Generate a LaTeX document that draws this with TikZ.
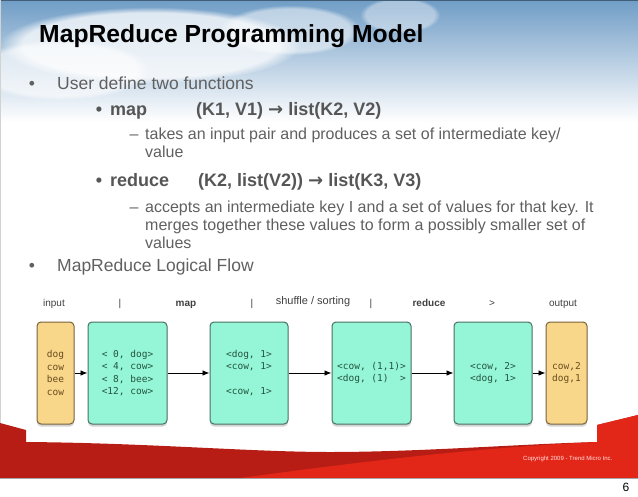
\documentclass[tikz,border=0pt]{standalone}
\usepackage{fontspec}
\setmainfont{Liberation Sans}
\setmonofont{DejaVu Sans Mono}
\newfontfamily\arrowfont{DejaVu Sans}
\usetikzlibrary{shadows,fadings,arrows.meta}

\definecolor{skyblue}{RGB}{112,157,198}
\definecolor{skymid}{RGB}{172,201,227}
\definecolor{bodygray}{RGB}{96,96,96}
\definecolor{mapgreen}{RGB}{148,246,214}
\definecolor{mapedge}{RGB}{74,112,98}
\definecolor{mapink}{RGB}{36,84,64}
\definecolor{ioorange}{RGB}{248,214,138}
\definecolor{ioedge}{RGB}{122,98,60}
\definecolor{ioink}{RGB}{104,76,30}
\definecolor{darkred}{RGB}{183,29,20}
\definecolor{brightred}{RGB}{226,39,24}

\newcommand{\sigarrow}{{\arrowfont\bfseries\char"2192}}

\begin{document}
\begin{tikzpicture}[x=1pt, y=-1pt,
    lvlone/.style={anchor=base west, inner sep=0pt, text=bodygray, font=\fontsize{17.5}{20}\selectfont},
    lvltwo/.style={anchor=base west, inner sep=0pt, text=bodygray!90!black, font=\bfseries\fontsize{18}{20}\selectfont},
    lvlthree/.style={anchor=base west, inner sep=0pt, text=bodygray, font=\fontsize{16}{18}\selectfont},
    head/.style={anchor=base, inner sep=0pt, text=black!75, font=\fontsize{10}{12}\selectfont},
    box/.style={draw=mapedge, fill=mapgreen, rounded corners=4pt, line width=1pt,
        minimum height=102pt, inner sep=0pt, align=center, text=mapink,
        font=\ttfamily\fontsize{9.5}{12.5}\selectfont,
        drop shadow={shadow xshift=0pt, shadow yshift=-2.5pt, opacity=0.35}},
    iobox/.style={box, draw=ioedge, fill=ioorange, text=ioink},
    flow/.style={-{Latex[length=7pt, width=5.5pt]}, line width=0.8pt}]

    \useasboundingbox (0,0) rectangle (638,496);

    % Sky behind the title, with a few soft clouds on the left
    \shade[top color=skyblue, middle color=skymid, bottom color=white] (0,0) rectangle (638,122);
    \fill[white, opacity=0.75, path fading=circle with fuzzy edge 15 percent] (150,45) ellipse (150 and 38);
    \fill[white, opacity=0.6, path fading=circle with fuzzy edge 15 percent] (60,70) ellipse (90 and 30);
    \fill[white, opacity=0.5, path fading=circle with fuzzy edge 15 percent] (290,30) ellipse (70 and 25);
    \fill[white, opacity=0.4, path fading=circle with fuzzy edge 15 percent] (400,15) ellipse (40 and 18);
    \draw[skyblue!60!black, line width=1pt] (0,0.5) -- (638,0.5);
    \draw[gray!35] (0.5,0) -- (0.5,478);

    % Red band at the foot of the slide
    \fill[darkred] (0,423) -- (26,430) -- (26,442)
        .. controls (150,443) and (250,452) .. (330,452)
        .. controls (420,452) and (520,444) .. (597,442)
        -- (597,425) -- (638,415) -- (638,478) -- (0,478) -- cycle;
    \fill[brightred] (240,478) .. controls (360,462) and (470,448) .. (597,442)
        -- (597,425) -- (638,415) -- (638,478) -- cycle;
    \draw[gray!70, line width=0.8pt] (0,478) -- (638,478);
    \node[anchor=west, inner sep=0pt, text=white!88!red, font=\fontsize{6}{7}\selectfont]
        (copy) at (523,459) {Copyright 2009 - Trend Micro Inc.};
    \node[anchor=base, inner sep=0pt, font=\fontsize{12}{14}\selectfont] (page) at (626,491) {6};

    % Title and bullets
    \node[anchor=base west, inner sep=0pt, font=\bfseries\fontsize{24.7}{28}\selectfont]
        (title) at (39,42.6) {MapReduce Programming Model};

    \node[lvlone, anchor=base] (dot1) at (32,89.3) {•};
    \node[lvlone] (users) at (57,89.3) {User define two functions};

    \node[lvltwo, anchor=base] (dot2) at (99,115.5) {•};
    \node[lvltwo] (mapkey) at (110,115.5) {map};
    \node[lvltwo] (mapsig) at (196,115.5) {(K1, V1) \sigarrow{} list(K2, V2)};
    \node[lvlthree, anchor=base] (dash1) at (134,139.8) {–};
    \node[lvlthree] (maptxt1) at (145,139.8)
        {takes an input pair and produces a set of intermediate key/};
    \node[lvlthree] (maptxt2) at (145,157.8) {value};

    \node[lvltwo, anchor=base] (dot3) at (99,186.5) {•};
    \node[lvltwo] (redkey) at (110,186.5) {reduce};
    \node[lvltwo] (redsig) at (198,186.5) {(K2, list(V2)) \sigarrow{} list(K3, V3)};
    \node[lvlthree, anchor=base] (dash2) at (134,212.8) {–};
    \node[lvlthree] (redtxt1) at (145,212.8)
        {accepts an intermediate key I and a set of values for that key. It};
    \node[lvlthree] (redtxt2) at (145,230.8)
        {merges together these values to form a possibly smaller set of};
    \node[lvlthree] (redtxt3) at (145,248.8) {values};

    \node[lvlone, anchor=base] (dot4) at (32,271.3) {•};
    \node[lvlone] (flowtitle) at (57,271.3) {MapReduce Logical Flow};

    % Stage headings
    \node[head] (hin) at (54,306.5) {input};
    \node[head] (bar1) at (120,306.5) {|};
    \node[head, font=\bfseries\fontsize{10}{12}\selectfont] (hmap) at (186,306.5) {map};
    \node[head] (bar2) at (252,306.5) {|};
    \node[head, font=\fontsize{11}{12}\selectfont] (hshuf) at (313,304) {shuffle / sorting};
    \node[head] (bar3) at (371,306.5) {|};
    \node[head, font=\bfseries\fontsize{10}{12}\selectfont] (hred) at (429,306.5) {reduce};
    \node[head] (hgt) at (492,306.5) {>};
    \node[head] (hout) at (563,306.5) {output};

    % Boxes
    \node[iobox, minimum width=37pt] (in) at (55.5,373) {dog\\cow\\bee\\cow};
    \node[box, minimum width=79pt] (m1) at (127.5,373)
        {<\ 0, dog>\\<\ 4, cow>\\<\ 8, bee>\\<12, cow>};
    \node[box, minimum width=78pt] (m2) at (249,373)
        {<dog, 1>\\<cow, 1>\\[12.5pt]<cow, 1>};
    \node[box, minimum width=79pt] (r1) at (371.5,373)
        {<cow, (1,1)>\\<dog, (1)\ \ >};
    \node[box, minimum width=78pt] (r2) at (493,373) {<cow, 2>\\<dog, 1>};
    \node[iobox, minimum width=41pt] (out) at (566.5,373) {cow,2\\dog,1};

    \draw[flow] (in) -- (m1);
    \draw[flow] (m1) -- (m2);
    \draw[flow] (m2) -- (r1);
    \draw[flow] (r1) -- (r2);
    \draw[flow] (r2) -- (out);

\end{tikzpicture}
\end{document}
